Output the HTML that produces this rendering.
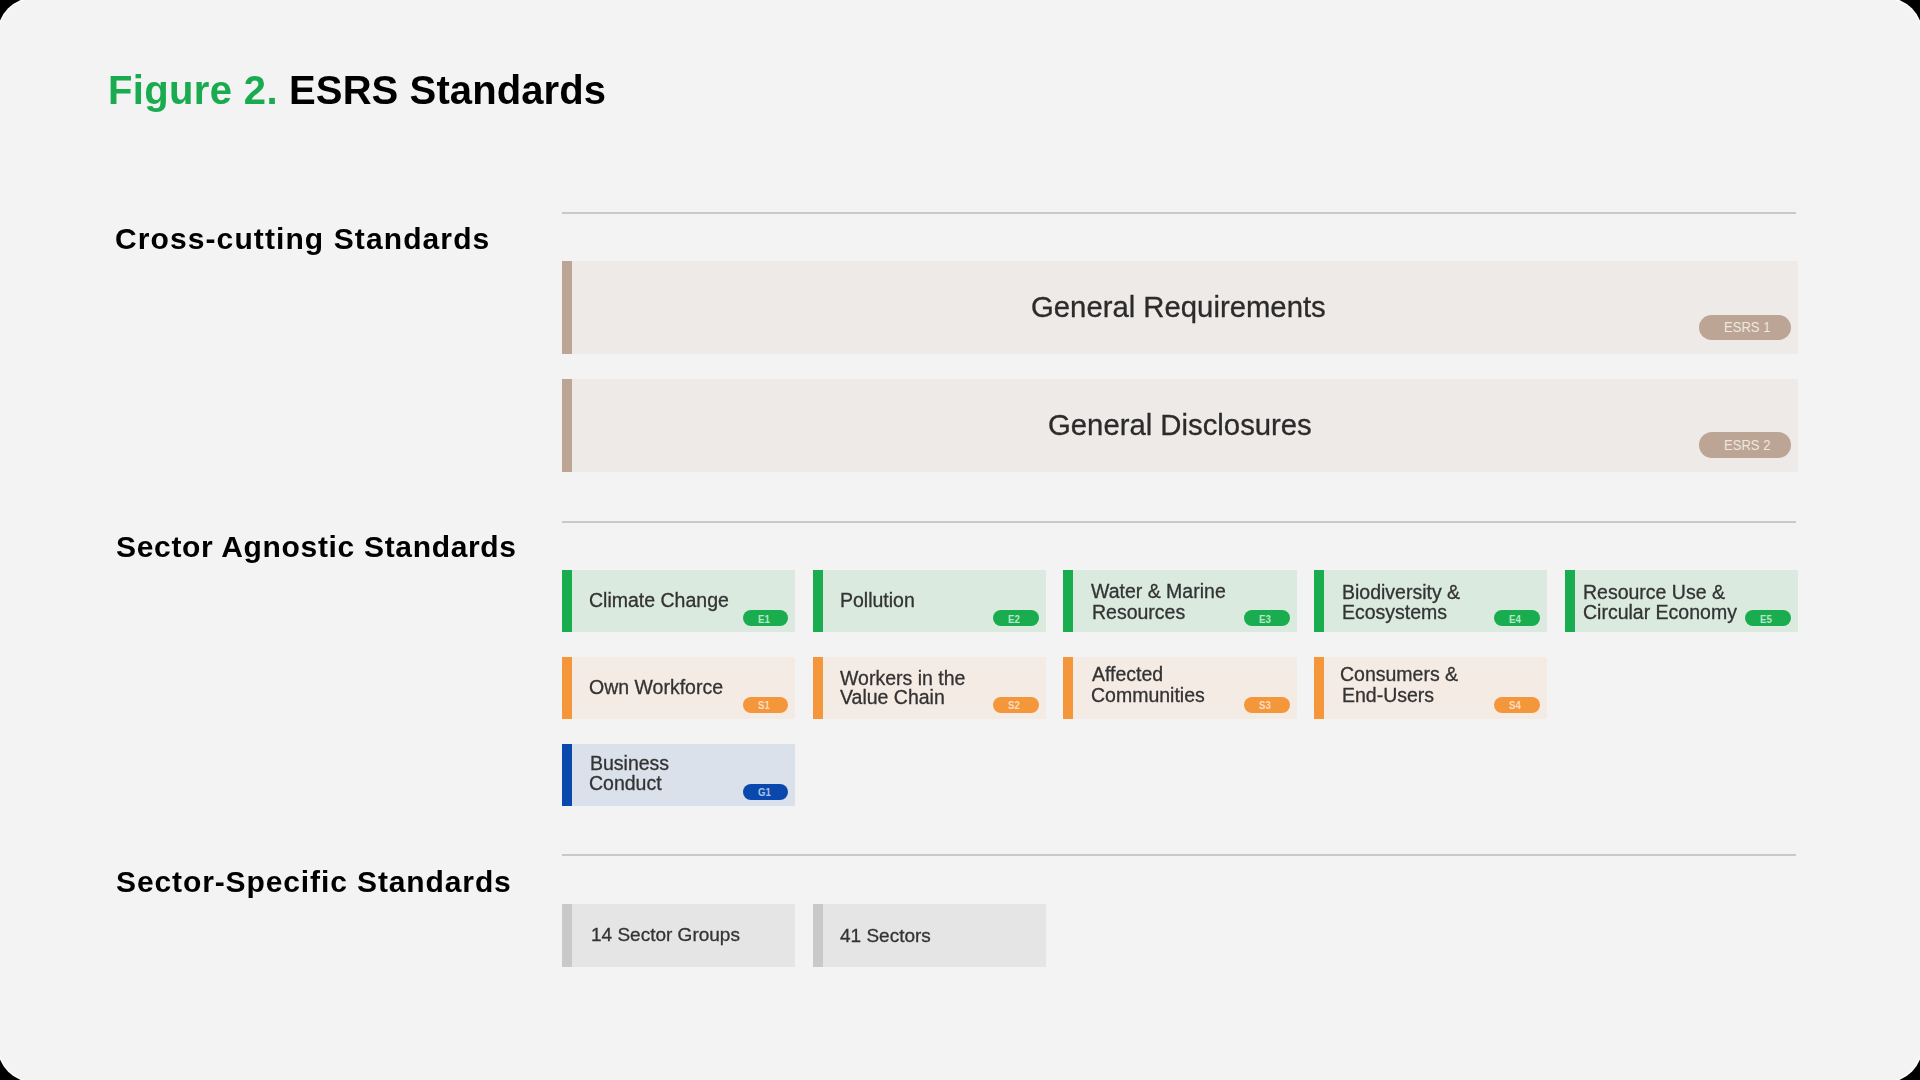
<!DOCTYPE html>
<html><head><meta charset="utf-8"><title>ESRS Standards</title>
<style>
html,body{margin:0;padding:0;}
body{width:1920px;height:1080px;overflow:hidden;background:#000;position:relative;font-family:"Liberation Sans",sans-serif;}
.panel{position:absolute;left:-1.45px;top:-1.45px;width:1922.9px;height:1082.9px;border-radius:34.3px;background:#f3f3f3;box-shadow:0 0 0 1.3px #fff;}
.t{position:absolute;white-space:nowrap;will-change:transform;}
.r{position:absolute;}
.badge-b{background:#bca594;border-radius:13px;color:#efe7e1;font-size:13.5px;line-height:25.8px;text-align:center;text-indent:2px;}
.badge-s{border-radius:8px;font-size:10.5px;line-height:16px;text-align:center;}
.bt{position:absolute;white-space:nowrap;transform-origin:0 0;}
.wrap{position:absolute;left:0;top:0;width:1920px;height:1080px;}
.corners{position:absolute;left:0;top:0;}
</style></head><body>
<div class="panel"></div>
<div class="wrap">
<div class="r" style="left:562px;top:570px;width:233.4px;height:62.3px;background:#dbeadf;"></div>
<div class="r" style="left:562px;top:570px;width:10px;height:62.3px;background:#1aad50;"></div>
<div class="r badge-s" style="left:742.5px;top:610px;width:45.8px;height:16px;background:#1aad50;"></div>
<div class="bt" style="left:757.60px;top:613.50px;font-size:11.5px;line-height:11px;font-weight:700;color:#b8e6c8;transform:scaleX(0.84)">E1</div>
<div class="r" style="left:812.5px;top:570px;width:233.4px;height:62.3px;background:#dbeadf;"></div>
<div class="r" style="left:812.5px;top:570px;width:10px;height:62.3px;background:#1aad50;"></div>
<div class="r badge-s" style="left:993.0px;top:610px;width:45.8px;height:16px;background:#1aad50;"></div>
<div class="bt" style="left:1008.10px;top:613.50px;font-size:11.5px;line-height:11px;font-weight:700;color:#b8e6c8;transform:scaleX(0.84)">E2</div>
<div class="r" style="left:1063.25px;top:570px;width:233.4px;height:62.3px;background:#dbeadf;"></div>
<div class="r" style="left:1063.25px;top:570px;width:10px;height:62.3px;background:#1aad50;"></div>
<div class="r badge-s" style="left:1243.75px;top:610px;width:45.8px;height:16px;background:#1aad50;"></div>
<div class="bt" style="left:1258.85px;top:613.50px;font-size:11.5px;line-height:11px;font-weight:700;color:#b8e6c8;transform:scaleX(0.84)">E3</div>
<div class="r" style="left:1313.75px;top:570px;width:233.4px;height:62.3px;background:#dbeadf;"></div>
<div class="r" style="left:1313.75px;top:570px;width:10px;height:62.3px;background:#1aad50;"></div>
<div class="r badge-s" style="left:1494.25px;top:610px;width:45.8px;height:16px;background:#1aad50;"></div>
<div class="bt" style="left:1509.35px;top:613.50px;font-size:11.5px;line-height:11px;font-weight:700;color:#b8e6c8;transform:scaleX(0.84)">E4</div>
<div class="r" style="left:1564.5px;top:570px;width:233.4px;height:62.3px;background:#dbeadf;"></div>
<div class="r" style="left:1564.5px;top:570px;width:10px;height:62.3px;background:#1aad50;"></div>
<div class="r badge-s" style="left:1745.0px;top:610px;width:45.8px;height:16px;background:#1aad50;"></div>
<div class="bt" style="left:1760.10px;top:613.50px;font-size:11.5px;line-height:11px;font-weight:700;color:#b8e6c8;transform:scaleX(0.84)">E5</div>
<div class="r" style="left:562px;top:656.7px;width:233.4px;height:62.3px;background:#f5ebe5;"></div>
<div class="r" style="left:562px;top:656.7px;width:10px;height:62.3px;background:#f4973b;"></div>
<div class="r badge-s" style="left:742.5px;top:696.7px;width:45.8px;height:16px;background:#f4973b;"></div>
<div class="bt" style="left:757.60px;top:700.20px;font-size:11.5px;line-height:11px;font-weight:700;color:#fcdcc0;transform:scaleX(0.84)">S1</div>
<div class="r" style="left:812.5px;top:656.7px;width:233.4px;height:62.3px;background:#f5ebe5;"></div>
<div class="r" style="left:812.5px;top:656.7px;width:10px;height:62.3px;background:#f4973b;"></div>
<div class="r badge-s" style="left:993.0px;top:696.7px;width:45.8px;height:16px;background:#f4973b;"></div>
<div class="bt" style="left:1008.10px;top:700.20px;font-size:11.5px;line-height:11px;font-weight:700;color:#fcdcc0;transform:scaleX(0.84)">S2</div>
<div class="r" style="left:1063.25px;top:656.7px;width:233.4px;height:62.3px;background:#f5ebe5;"></div>
<div class="r" style="left:1063.25px;top:656.7px;width:10px;height:62.3px;background:#f4973b;"></div>
<div class="r badge-s" style="left:1243.75px;top:696.7px;width:45.8px;height:16px;background:#f4973b;"></div>
<div class="bt" style="left:1258.85px;top:700.20px;font-size:11.5px;line-height:11px;font-weight:700;color:#fcdcc0;transform:scaleX(0.84)">S3</div>
<div class="r" style="left:1313.75px;top:656.7px;width:233.4px;height:62.3px;background:#f5ebe5;"></div>
<div class="r" style="left:1313.75px;top:656.7px;width:10px;height:62.3px;background:#f4973b;"></div>
<div class="r badge-s" style="left:1494.25px;top:696.7px;width:45.8px;height:16px;background:#f4973b;"></div>
<div class="bt" style="left:1509.35px;top:700.20px;font-size:11.5px;line-height:11px;font-weight:700;color:#fcdcc0;transform:scaleX(0.84)">S4</div>
<div class="r" style="left:562px;top:743.5px;width:233.4px;height:62.3px;background:#dbe1ea;"></div>
<div class="r" style="left:562px;top:743.5px;width:10px;height:62.3px;background:#0b48ad;"></div>
<div class="r badge-s" style="left:742.5px;top:783.5px;width:45.8px;height:16px;background:#0b48ad;"></div>
<div class="bt" style="left:757.60px;top:787.00px;font-size:11.5px;line-height:11px;font-weight:700;color:#aac2e8;transform:scaleX(0.84)">G1</div>
<div class="r" style="left:562px;top:904.1px;width:233.4px;height:62.5px;background:#e5e5e5;"></div>
<div class="r" style="left:562px;top:904.1px;width:10px;height:62.5px;background:#c9c9c9;"></div>
<div class="r" style="left:812.5px;top:904.1px;width:233.4px;height:62.5px;background:#e5e5e5;"></div>
<div class="r" style="left:812.5px;top:904.1px;width:10px;height:62.5px;background:#c9c9c9;"></div>
<div class="r" style="left:562px;top:378.5px;width:1236px;height:93px;background:#eeeae8;"></div><div class="r" style="left:562px;top:378.5px;width:10px;height:93px;background:#bca594;"></div><div class="r badge-b" style="left:1699.2px;top:432.2px;width:91.4px;height:25.8px;"></div><div class="bt" style="left:1723.60px;top:437.80px;font-size:15px;line-height:14px;color:#efe7e1;transform:scaleX(0.87)">ESRS 2</div>
<div class="r" style="left:562px;top:261px;width:1236px;height:93px;background:#eeeae8;"></div><div class="r" style="left:562px;top:261px;width:10px;height:93px;background:#bca594;"></div><div class="r badge-b" style="left:1699.2px;top:314.7px;width:91.4px;height:25.8px;"></div><div class="bt" style="left:1723.60px;top:320.30px;font-size:15px;line-height:14px;color:#efe7e1;transform:scaleX(0.87)">ESRS 1</div>
<div class="t" style="left:108.00px;top:70.14px;font-size:40px;line-height:40px;color:#000;font-weight:700;letter-spacing:0.1px;"><span style="color:#1aab50;letter-spacing:0.35px">Figure 2.</span> ESRS Standards</div>
<div class="t" style="left:115.00px;top:223.60px;font-size:30px;line-height:30px;color:#000;font-weight:700;letter-spacing:1.1px;">Cross-cutting Standards</div>
<div class="t" style="left:116.00px;top:532.11px;font-size:30px;line-height:30px;color:#000;font-weight:700;letter-spacing:0.67px;">Sector Agnostic Standards</div>
<div class="t" style="left:116.00px;top:866.61px;font-size:30px;line-height:30px;color:#000;font-weight:700;letter-spacing:0.89px;">Sector-Specific Standards</div>
<div class="t" style="left:1030.50px;top:292.20px;font-size:29.3px;line-height:29.3px;color:#2b2b2b;font-weight:400;letter-spacing:0px;-webkit-text-stroke:0.3px #2b2b2b;">General Requirements</div>
<div class="t" style="left:1047.50px;top:409.70px;font-size:29.3px;line-height:29.3px;color:#2b2b2b;font-weight:400;letter-spacing:0px;-webkit-text-stroke:0.3px #2b2b2b;">General Disclosures</div>
<div class="t" style="left:589.00px;top:591.49px;font-size:19.5px;line-height:19.5px;color:#333;font-weight:400;letter-spacing:0px;-webkit-text-stroke:0.3px #333;">Climate Change</div>
<div class="t" style="left:839.50px;top:590.99px;font-size:19.5px;line-height:19.5px;color:#333;font-weight:400;letter-spacing:0px;-webkit-text-stroke:0.3px #333;">Pollution</div>
<div class="t" style="left:1091.25px;top:582.49px;font-size:19.5px;line-height:19.5px;color:#333;font-weight:400;letter-spacing:0px;-webkit-text-stroke:0.3px #333;">Water &amp; Marine</div>
<div class="t" style="left:1091.50px;top:603.24px;font-size:19.5px;line-height:19.5px;color:#333;font-weight:400;letter-spacing:0px;-webkit-text-stroke:0.3px #333;">Resources</div>
<div class="t" style="left:1341.50px;top:583.49px;font-size:19.5px;line-height:19.5px;color:#333;font-weight:400;letter-spacing:0px;-webkit-text-stroke:0.3px #333;">Biodiversity &amp;</div>
<div class="t" style="left:1341.50px;top:603.49px;font-size:19.5px;line-height:19.5px;color:#333;font-weight:400;letter-spacing:0px;-webkit-text-stroke:0.3px #333;">Ecosystems</div>
<div class="t" style="left:1583.25px;top:583.49px;font-size:19.5px;line-height:19.5px;color:#333;font-weight:400;letter-spacing:0px;-webkit-text-stroke:0.3px #333;">Resource Use &amp;</div>
<div class="t" style="left:1582.50px;top:602.99px;font-size:19.5px;line-height:19.5px;color:#333;font-weight:400;letter-spacing:0px;-webkit-text-stroke:0.3px #333;">Circular Economy</div>
<div class="t" style="left:589.00px;top:678.49px;font-size:19.5px;line-height:19.5px;color:#333;font-weight:400;letter-spacing:0px;-webkit-text-stroke:0.3px #333;">Own Workforce</div>
<div class="t" style="left:840.00px;top:669.49px;font-size:19.5px;line-height:19.5px;color:#333;font-weight:400;letter-spacing:0px;-webkit-text-stroke:0.3px #333;">Workers in the</div>
<div class="t" style="left:840.00px;top:688.49px;font-size:19.5px;line-height:19.5px;color:#333;font-weight:400;letter-spacing:0px;-webkit-text-stroke:0.3px #333;">Value Chain</div>
<div class="t" style="left:1091.50px;top:664.99px;font-size:19.5px;line-height:19.5px;color:#333;font-weight:400;letter-spacing:0px;-webkit-text-stroke:0.3px #333;">Affected</div>
<div class="t" style="left:1090.50px;top:685.99px;font-size:19.5px;line-height:19.5px;color:#333;font-weight:400;letter-spacing:0px;-webkit-text-stroke:0.3px #333;">Communities</div>
<div class="t" style="left:1340.25px;top:665.49px;font-size:19.5px;line-height:19.5px;color:#333;font-weight:400;letter-spacing:0px;-webkit-text-stroke:0.3px #333;">Consumers &amp;</div>
<div class="t" style="left:1341.50px;top:685.99px;font-size:19.5px;line-height:19.5px;color:#333;font-weight:400;letter-spacing:0px;-webkit-text-stroke:0.3px #333;">End-Users</div>
<div class="t" style="left:589.50px;top:754.49px;font-size:19.5px;line-height:19.5px;color:#333;font-weight:400;letter-spacing:0px;-webkit-text-stroke:0.3px #333;">Business</div>
<div class="t" style="left:589.00px;top:774.49px;font-size:19.5px;line-height:19.5px;color:#333;font-weight:400;letter-spacing:0px;-webkit-text-stroke:0.3px #333;">Conduct</div>
<div class="t" style="left:590.50px;top:924.92px;font-size:19px;line-height:19px;color:#333;font-weight:400;letter-spacing:0px;-webkit-text-stroke:0.3px #333;">14 Sector Groups</div>
<div class="t" style="left:839.50px;top:926.42px;font-size:19px;line-height:19px;color:#333;font-weight:400;letter-spacing:0px;-webkit-text-stroke:0.3px #333;">41 Sectors</div>
<div class="r" style="left:562px;top:212.3px;width:1234px;height:2px;background:#c9c9c9;"></div>
<div class="r" style="left:562px;top:521.3px;width:1234px;height:2px;background:#c9c9c9;"></div>
<div class="r" style="left:562px;top:853.5px;width:1234px;height:2px;background:#c9c9c9;"></div>
</div>

</body></html>
